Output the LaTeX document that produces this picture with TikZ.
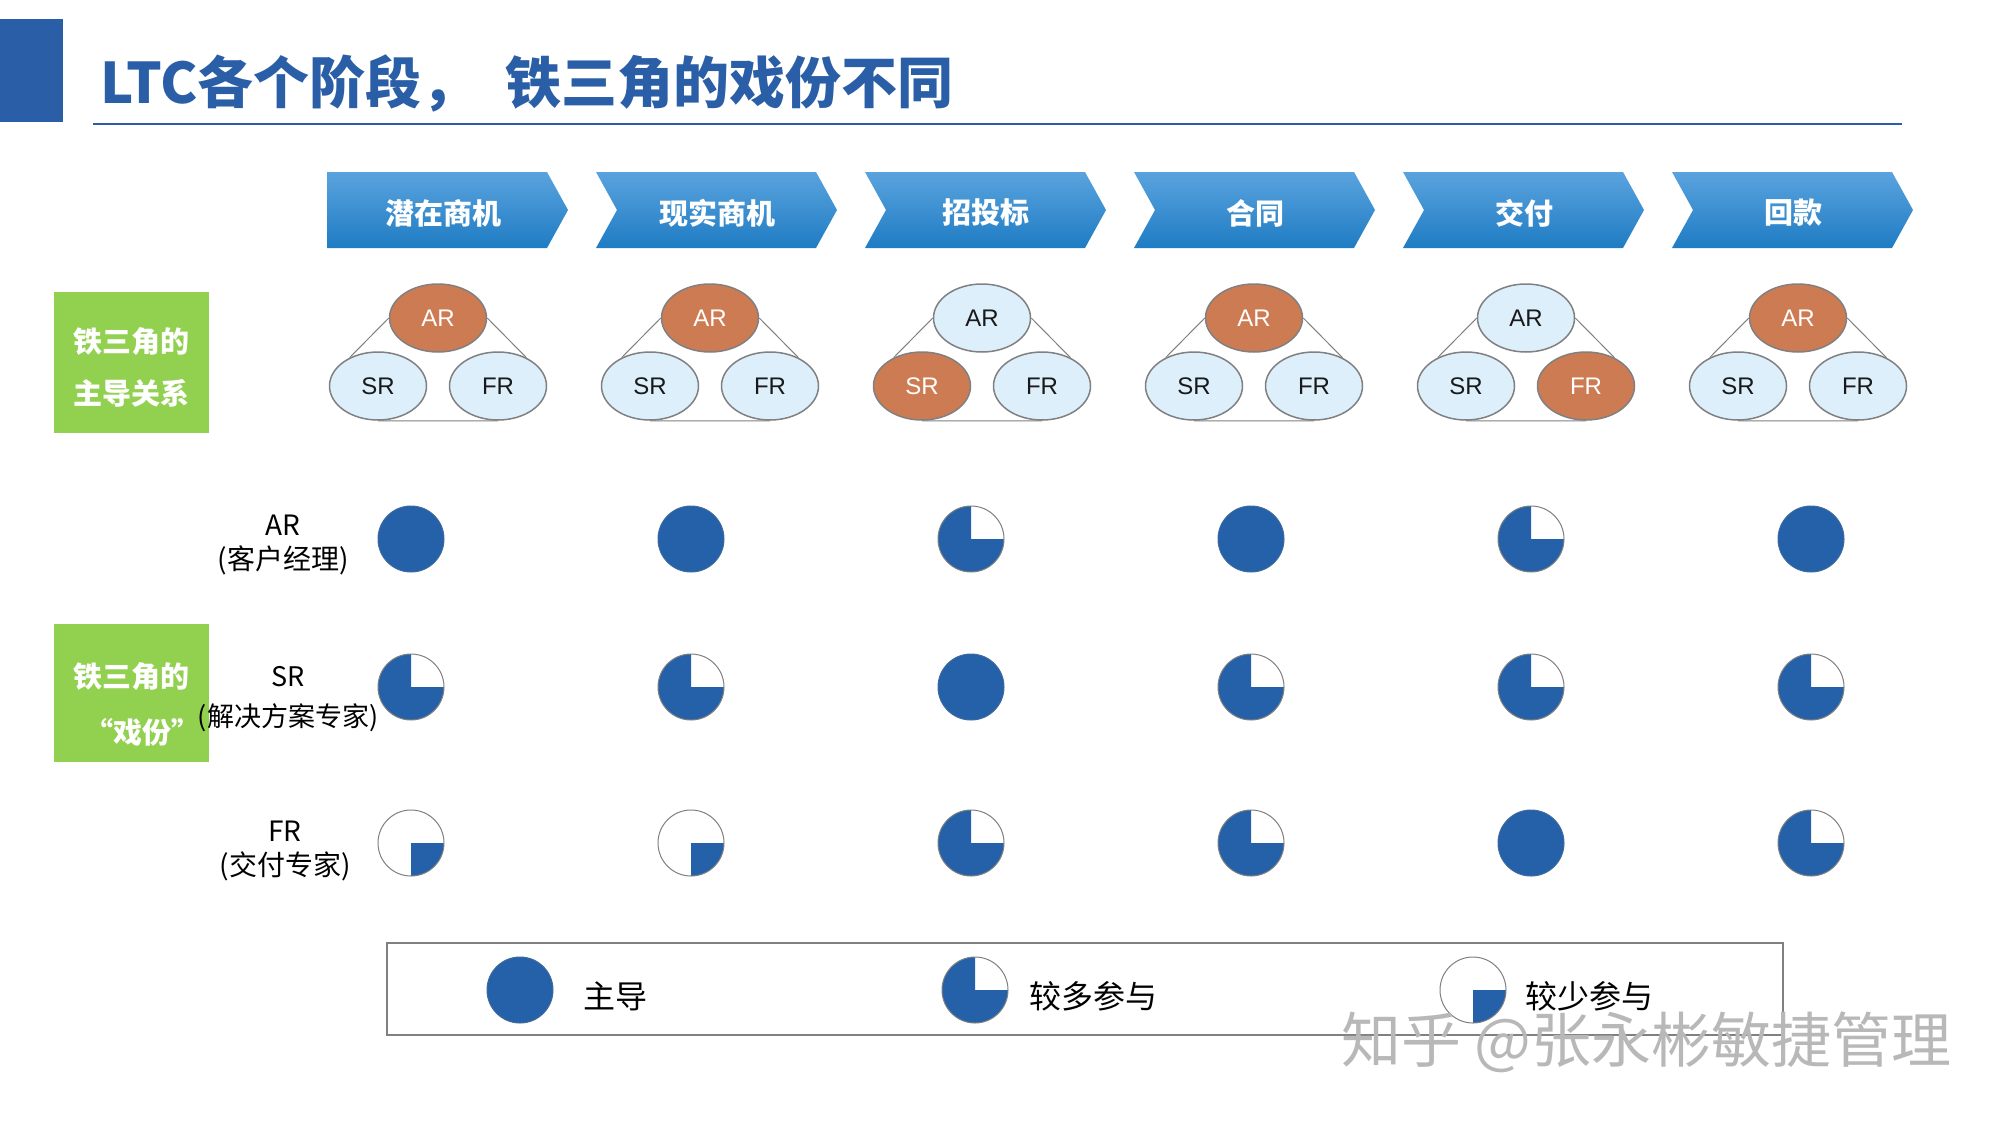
\documentclass[tikz,border=0pt]{standalone}
\usepackage{fontspec}
\setmainfont{Noto Sans CJK SC}
\newfontfamily\arialfont{Liberation Sans}
\usetikzlibrary{shapes.geometric}

\definecolor{titleblue}{HTML}{2A5EA6}
\definecolor{pieblue}{HTML}{2461A8}
\definecolor{leadgreen}{HTML}{92D050}
\definecolor{leadorange}{HTML}{CD7B52}
\definecolor{rolefill}{HTML}{DDEFFB}
\definecolor{chevtop}{HTML}{5AA3DE}
\definecolor{chevbot}{HTML}{1F7CC3}
\definecolor{edgegray}{HTML}{808080}

\tikzset{
  stagebox/.style={top color=chevtop, bottom color=chevbot},
  stagetext/.style={text=white, font=\bfseries\fontsize{29}{31}\selectfont},
  role/.style={ellipse, draw=edgegray, line width=1.5pt, fill=rolefill,
    minimum width=97pt, minimum height=68pt, inner sep=0pt,
    text=black!90, font=\arialfont\fontsize{24}{24}\selectfont},
  lead/.style={role, fill=leadorange, text=white},
  triline/.style={draw=edgegray, line width=1pt},
  greenbox/.style={fill=leadgreen, minimum width=155pt},
  greentext/.style={text=white, align=center},
  rolelabel/.style={align=center},
  pieedge/.style={draw=edgegray, line width=1pt},
  keytext/.style={anchor=west, font=\fontsize{32}{34}\selectfont}
}

% pies: full, more (3/4), less (1/4)
\newcommand{\pief}[1]{\fill[pieblue] (#1) circle (33); \draw[pieedge, draw=pieblue!70!gray] (#1) circle (33);}
\newcommand{\piem}[1]{\fill[white] (#1) circle (33);
  \fill[pieblue] (#1) -- ++(90:33) arc[start angle=90, end angle=360, radius=33] -- cycle;
  \draw[pieedge] (#1) circle (33);}
\newcommand{\piel}[1]{\fill[white] (#1) circle (33);
  \fill[pieblue] (#1) -- ++(270:33) arc[start angle=270, end angle=360, radius=33] -- cycle;
  \draw[pieedge] (#1) circle (33);}

\begin{document}
\begin{tikzpicture}[x=1pt, y=1pt]
\useasboundingbox (0,0) rectangle (2000,-1125);
% Title
\fill[titleblue] (0,-19) rectangle (63,-122);
\node[anchor=west, inner sep=0pt, text=titleblue, font=\bfseries\fontsize{56}{60}\selectfont] (title)
  at (100,-83) {LTC各个阶段，\hspace{28pt}铁三角的戏份不同};
\draw[titleblue, line width=2.5pt] (93,-124) -- (1902,-124);
% Stages
\foreach \k/\name in {1/潜在商机,2/现实商机,3/招投标,4/合同,5/交付,6/回款} {
  \pgfmathsetmacro{\L}{327+269*(\k-1)}
  \pgfmathsetmacro{\T}{\L+241}
  \ifnum\k=1
    \path[stagebox] (\L,-172) -- ({\T-21},-172) -- (\T,-210) -- ({\T-21},-248) -- (\L,-248) -- cycle;
    \node[stagetext] (stage\k) at ({\L+116},-213) {\name};
  \else
    \path[stagebox] (\L,-172) -- ({\T-21},-172) -- (\T,-210) -- ({\T-21},-248) -- (\L,-248) -- ({\L+21},-210) -- cycle;
    \node[stagetext] (stage\k) at ({\L+121},-213) {\name};
  \fi
}
% Iron triangles
\foreach \k/\sa/\ss/\sf in {1/lead/role/role,2/lead/role/role,3/role/lead/role,4/lead/role/role,5/role/role/lead,6/lead/role/role} {
  \pgfmathsetmacro{\X}{438+272*(\k-1)}
  \node[\sa] (ar\k) at (\X,-318) {AR};
  \node[\ss] (sr\k) at ({\X-60},-386) {SR};
  \node[\sf] (fr\k) at ({\X+60},-386) {FR};
  \draw[triline] (ar\k.180) -- (sr\k.135) (sr\k.270) -- (fr\k.270) (ar\k.0) -- (fr\k.45);
}
% Green boxes
\node[greenbox, minimum height=141pt] (lead-box) at (131.5,-362.5) {};
\node[greentext, font=\bfseries\fontsize{29}{52}\selectfont] (lead-box-text)
  at ([yshift=-5pt]lead-box.center) {铁三角的\\主导关系};
\node[greenbox, minimum height=138pt] (part-box) at (131.5,-693) {};
\node[greentext, font=\bfseries\fontsize{29}{56}\selectfont] (part-box-text)
  at ([yshift=-11pt]part-box.center) {铁三角的\\\hspace*{22pt}“戏份”};
% Role labels
\node[rolelabel, font=\fontsize{28}{34}\selectfont] (lab-ar) at (283,-545) {AR\\(客户经理)};
\node[rolelabel, font=\fontsize{27}{40}\selectfont] (lab-sr) at (288,-699) {SR\\(解决方案专家)};
\node[rolelabel, font=\fontsize{28}{34}\selectfont] (lab-fr) at (285,-851) {FR\\(交付专家)};
% Pies
\foreach \row/\yy/\vals in {ar/539/{f,f,m,f,m,f}, sr/687/{m,m,f,m,m,m}, fr/843/{l,l,m,m,f,m}} {
  \foreach \v [count=\c] in \vals {
    \coordinate (\row-\c) at ({411+280*(\c-1)},-\yy);
    \csname pie\v\endcsname{\row-\c}
  }
}
% Legend
\draw[edgegray, line width=2pt] (387,-943) rectangle (1783,-1035);
\coordinate (key-f) at (520,-990);
\coordinate (key-m) at (975,-990);
\coordinate (key-l) at (1473,-990);
\pief{key-f}
\piem{key-m}
\piel{key-l}
\node[keytext] (key-f-text) at (580,-996) {主导};
\node[keytext] (key-m-text) at (1026,-996) {较多参与};
\node[keytext] (key-l-text) at (1522,-996) {较少参与};
% Watermark
\node[anchor=west, text=black!28, font=\fontsize{60}{62}\selectfont] (mark) at (1338,-1042) {知乎 @张永彬敏捷管理};
\end{tikzpicture}
\end{document}
